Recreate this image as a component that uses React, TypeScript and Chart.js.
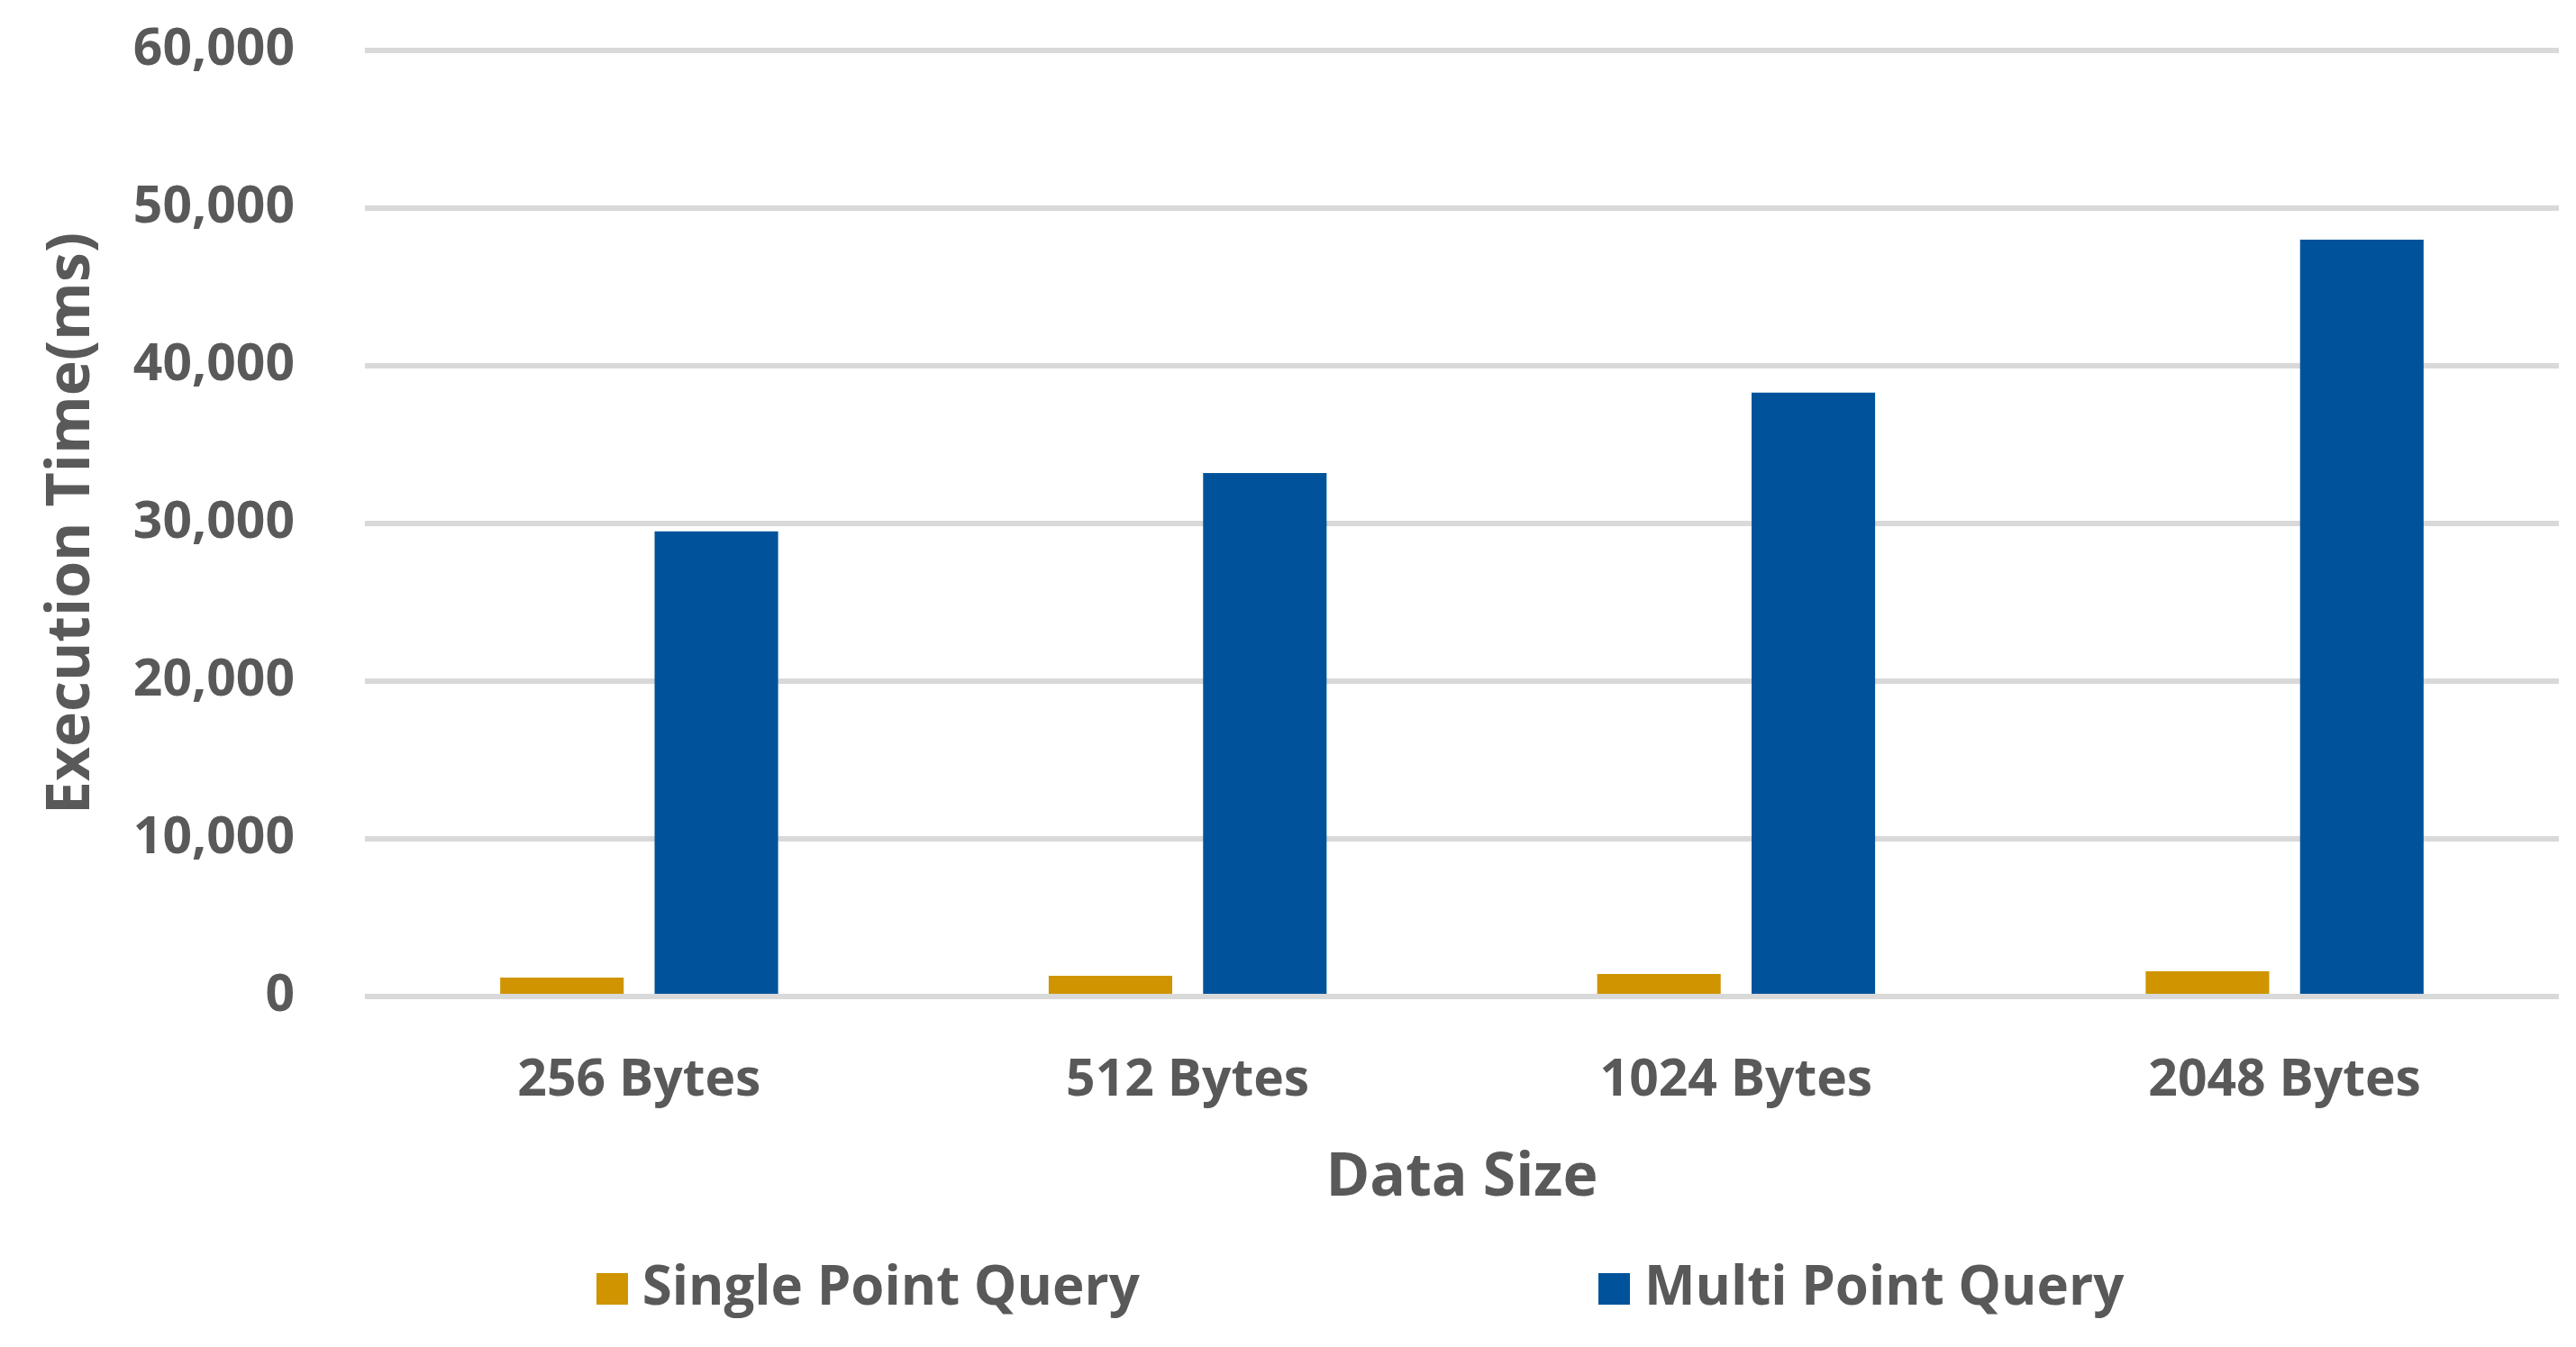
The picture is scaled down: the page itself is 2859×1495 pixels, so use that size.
import React, { useEffect, useRef } from "react";
import { Chart, registerables } from "chart.js";

Chart.register(...registerables);

const categories = ["256 Bytes", "512 Bytes", "1024 Bytes", "2048 Bytes"];
const singlePointQuery = [1200, 1310, 1430, 1600];
const multiPointQuery = [29500, 33200, 38300, 48000];
const seriesNames = ["Single Point Query", "Multi Point Query"];
const seriesColors = ["#CF9400", "#00539B"];
const yMin = 0;
const yMax = 60000;
const yStep = 10000;
const xTitle = "Data Size";
const yTitle = "Execution Time(ms)";

const FONT = "'Open Sans', 'Noto Sans', sans-serif";
const TEXT = "#595959";

export default function App() {
  const ref = useRef<HTMLCanvasElement | null>(null);

  useEffect(() => {
    if (!ref.current) return;
    const chart = new Chart(ref.current, {
      type: "bar",
      data: {
        labels: categories,
        datasets: [
          {
            label: seriesNames[0],
            data: singlePointQuery,
            backgroundColor: seriesColors[0],
            categoryPercentage: 0.563,
            barPercentage: 0.8,
          },
          {
            label: seriesNames[1],
            data: multiPointQuery,
            backgroundColor: seriesColors[1],
            categoryPercentage: 0.563,
            barPercentage: 0.8,
          },
        ],
      },
      options: {
        animation: false,
        responsive: true,
        maintainAspectRatio: false,
        devicePixelRatio: 1,
        layout: { padding: { left: 0, right: 19, top: 56, bottom: 147 } },
        plugins: {
          legend: { display: false },
          tooltip: { enabled: false },
        },
        scales: {
          x: {
            afterFit: (scale: any) => {
              scale.height = 242;
            },
            grid: { display: false },
            border: { display: false },
            ticks: {
              color: TEXT,
              padding: 52,
              font: { family: FONT, size: 57, weight: "bold" },
            },
            title: {
              display: true,
              text: xTitle,
              color: TEXT,
              padding: { top: 0, bottom: 0 },
              font: { family: FONT, size: 66, weight: "bold" },
            },
          },
          y: {
            min: yMin,
            max: yMax,
            afterFit: (scale: any) => {
              scale.width = 405;
              scale.paddingTop = 0;
              scale.paddingBottom = 0;
            },
            grid: {
              color: "#D9D9D9",
              lineWidth: 6,
              drawTicks: false,
            },
            border: { display: false },
            ticks: {
              stepSize: yStep,
              color: TEXT,
              padding: 78,
              font: { family: FONT, size: 57, weight: "bold" },
            },
            title: {
              display: true,
              text: yTitle,
              color: TEXT,
              padding: { top: 41, bottom: 0 },
              font: { family: FONT, size: 66, weight: "bold" },
            },
          },
        },
      },
    });
    return () => chart.destroy();
  }, []);

  return (
    <div
      style={{
        position: "fixed",
        left: 0,
        top: 0,
        width: 2859,
        height: 1495,
        background: "#FFFFFF",
      }}
    >
      <canvas ref={ref} />
      <div
        style={{
          position: "absolute",
          left: 0,
          top: 1395,
          width: 2859,
          display: "flex",
          justifyContent: "center",
          alignItems: "flex-start",
          gap: 509,
          paddingLeft: 160,
          boxSizing: "border-box",
          fontFamily: FONT,
          fontWeight: 700,
          fontSize: 60,
          lineHeight: "60px",
          color: TEXT,
        }}
      >
        {seriesNames.map((name, i) => (
          <div key={name} style={{ display: "flex", alignItems: "flex-start" }}>
            <span
              style={{
                display: "inline-block",
                width: 35,
                height: 35,
                marginTop: 18,
                marginRight: 16,
                background: seriesColors[i],
              }}
            />
            <span style={{ whiteSpace: "nowrap" }}>{name}</span>
          </div>
        ))}
      </div>
    </div>
  );
}
